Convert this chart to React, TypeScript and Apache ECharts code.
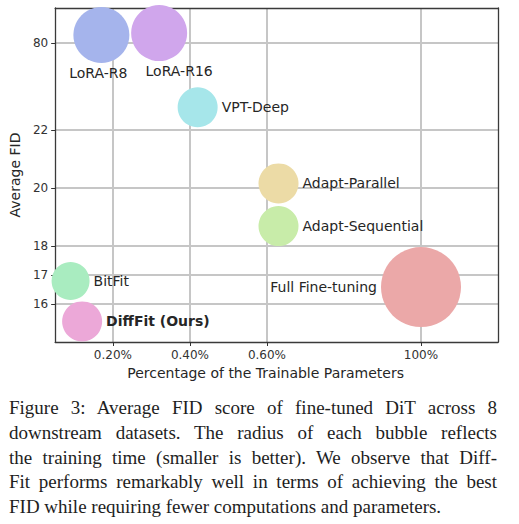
import React, { useEffect, useRef } from 'react';
import * as echarts from 'echarts';

// ---- data ----
const methods = [
  'LoRA-R8',
  'LoRA-R16',
  'VPT-Deep',
  'Adapt-Parallel',
  'Adapt-Sequential',
  'Full Fine-tuning',
  'BitFit',
  'DiffFit (Ours)',
];
const trainablePct = [0.17, 0.32, 0.42, 0.63, 0.63, 100, 0.09, 0.12];
const avgFID = [85.2, 86.5, 37.1, 20.16, 18.69, 16.59, 16.8, 15.41];
const bubbleRadius = [28, 28, 20, 20, 20, 40, 19, 20];
const bubbleColors = ['#a5b4ec', '#d0a6ec', '#a6e6ea', '#ecdba6', '#c8eca9', '#eba8a8', '#a9ecc0', '#eca8d8'];
const labelPlacement = ['bottom', 'bottom', 'right', 'right', 'right', 'left', 'right', 'right'];
const labelShift = [[-3, 0], [20, 0], [0, 0], [0, 0], [0, 0], [0, 0], [0, 0], [0, 0]];

const xTickPct = [0.2, 0.4, 0.6, 100];
const xTickLabels = ['0.20%', '0.40%', '0.60%', '100%'];
const yTickFID = [16, 17, 18, 20, 22, 80];
const yTickLabels = ['16', '17', '18', '20', '22', '80'];
const yTickSlots = [0, 1, 2, 4, 6, 9];

const captionLines = [
  'Figure 3:  Average FID score of fine-tuned DiT across 8',
  'downstream datasets.  The radius of each bubble reflects',
  'the training time (smaller is better).  We observe that Diff-',
  'Fit performs remarkably well in terms of achieving the best',
  'FID while requiring fewer computations and parameters.',
];

const X_MIN = 0.25;
const X_MAX = 6;
const Y_MIN = -1.3;
const Y_MAX = 10.2;

// broken x axis: linear in 0.2% steps below 1%, 100% placed at slot 5
const pctToPos = (p: number) => (p < 1 ? p / 0.2 : 5 + Math.log10(p / 100));
// broken y axis: piecewise linear through the tick slots
const fidToPos = (f: number) => {
  const n = yTickFID.length;
  let i = 0;
  if (f <= yTickFID[0]) i = 0;
  else if (f >= yTickFID[n - 1]) i = n - 2;
  else while (i < n - 2 && f > yTickFID[i + 1]) i++;
  const a = yTickFID[i], b = yTickFID[i + 1];
  const sa = yTickSlots[i], sb = yTickSlots[i + 1];
  return sa + ((f - a) / (b - a)) * (sb - sa);
};

export default function App() {
  const ref = useRef<HTMLDivElement>(null);
  useEffect(() => {
    const chart = echarts.init(ref.current!, null, { renderer: 'svg' });
    const xTickPos = xTickPct.map(pctToPos);
    const yTickPos = yTickFID.map(fidToPos);
    const lookup = (pos: number[], labels: string[]) => (v: number) => {
      const k = pos.findIndex((p) => Math.abs(p - v) < 1e-6);
      return k >= 0 ? labels[k] : '';
    };
    const gridLine = { show: true, lineStyle: { color: '#c6c6c6', width: 2 } };
    const frameLine = { show: true, onZero: false, lineStyle: { color: '#3a3a3a', width: 1.3 } };
    const frameOnly = {
      type: 'value',
      axisLine: frameLine,
      axisTick: { show: false },
      axisLabel: { show: false },
      splitLine: { show: false },
    };
    const items = methods.map((m, i) => ({
      name: m,
      value: [pctToPos(trainablePct[i]), fidToPos(avgFID[i])],
      symbolSize: bubbleRadius[i] * 2,
      itemStyle: { color: bubbleColors[i], opacity: 1 },
      label: {
        show: true,
        position: labelPlacement[i],
        distance: labelPlacement[i] === 'bottom' ? 3 : 4,
        offset: labelShift[i],
        fontWeight: i === methods.length - 1 ? 'bold' : 'normal',
      },
    }));
    chart.setOption({
      animation: false,
      textStyle: { fontFamily: 'DejaVu Sans' },
      grid: { left: 53, top: 8, right: 21, bottom: 43 },
      xAxis: [
        {
          type: 'value',
          min: X_MIN,
          max: X_MAX,
          name: 'Percentage of the Trainable Parameters',
          nameLocation: 'middle',
          nameGap: 24,
          nameTextStyle: { fontSize: 14, color: '#262626', padding: [0, 22, 0, 0] },
          splitLine: gridLine,
          axisLine: frameLine,
          axisTick: {
            show: true,
            customValues: xTickPos,
            length: 4,
            lineStyle: { color: '#333', width: 1 },
          },
          axisLabel: {
            customValues: xTickPos,
            formatter: lookup(xTickPos, xTickLabels),
            fontSize: 12,
            color: '#333',
            margin: 7,
          },
        },
        { ...frameOnly, position: 'top', min: X_MIN, max: X_MAX },
      ],
      yAxis: [
        {
          type: 'value',
          min: Y_MIN,
          max: Y_MAX,
          name: 'Average FID',
          nameLocation: 'middle',
          nameRotate: 90,
          nameGap: 31,
          nameTextStyle: { fontSize: 14, color: '#262626' },
          splitLine: gridLine,
          axisLine: frameLine,
          axisTick: {
            show: true,
            customValues: yTickPos,
            length: 4,
            lineStyle: { color: '#333', width: 1 },
          },
          axisLabel: {
            customValues: yTickPos,
            formatter: lookup(yTickPos, yTickLabels),
            fontSize: 12,
            color: '#333',
            margin: 7,
          },
        },
        { ...frameOnly, position: 'right', min: Y_MIN, max: Y_MAX },
      ],
      series: [
        {
          type: 'scatter',
          z: 3,
          xAxisIndex: 0,
          yAxisIndex: 0,
          data: items,
          label: { fontSize: 14, color: '#262626', fontFamily: 'DejaVu Sans', formatter: '{b}' },
          emphasis: { disabled: true },
        },
      ],
    });
    return () => chart.dispose();
  }, []);

  return (
    <div style={{ position: 'fixed', left: 0, top: 0, width: 519, height: 524, background: '#fff' }}>
      <div ref={ref} style={{ position: 'absolute', left: 0, top: 0, width: 519, height: 385 }} />
      <div
        style={{
          position: 'absolute',
          left: 9,
          top: 396,
          width: 488,
          fontFamily: '"Liberation Serif", "Times New Roman", serif',
          fontSize: 19,
          color: '#1e1e1e',
        }}
      >
        {captionLines.map((line, i) => (
          <div
            key={i}
            style={{
              height: 24.75,
              lineHeight: '24.75px',
              whiteSpace: 'nowrap',
              textAlign: i < captionLines.length - 1 ? 'justify' : 'left',
              textAlignLast: i < captionLines.length - 1 ? 'justify' : 'left',
            } as React.CSSProperties}
          >
            {line}
          </div>
        ))}
      </div>
    </div>
  );
}
